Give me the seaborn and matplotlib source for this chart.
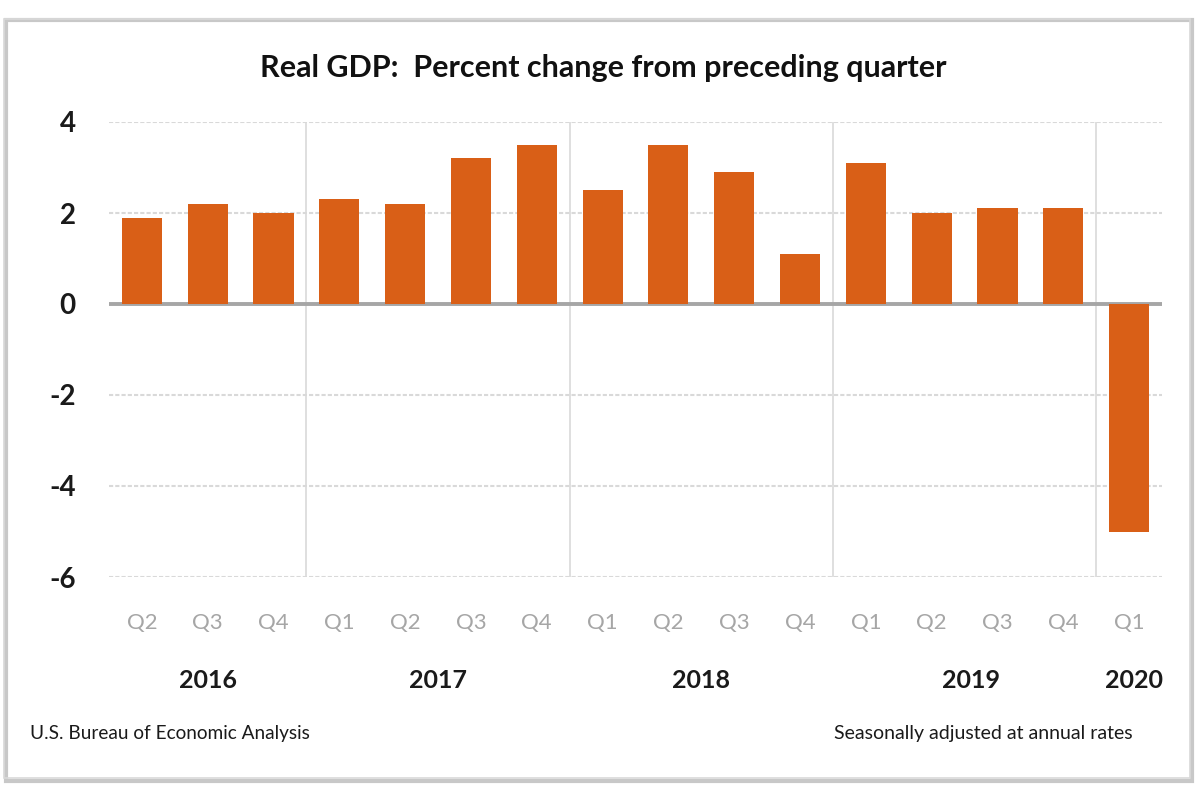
import matplotlib
matplotlib.use("Agg")
import matplotlib.pyplot as plt
import seaborn as sns
import pandas as pd
from matplotlib.patches import Rectangle

quarters = ["Q2", "Q3", "Q4", "Q1", "Q2", "Q3", "Q4", "Q1", "Q2", "Q3", "Q4",
            "Q1", "Q2", "Q3", "Q4", "Q1"]
years = ["2016", "2016", "2016", "2017", "2017", "2017", "2017", "2018", "2018",
         "2018", "2018", "2019", "2019", "2019", "2019", "2020"]
values = [1.9, 2.2, 2.0, 2.3, 2.2, 3.2, 3.5, 2.5, 3.5, 2.9, 1.1, 3.1, 2.0, 2.1, 2.1, -5.0]
year_labels = ["2016", "2017", "2018", "2019", "2020"]
year_label_pos = [1.0, 4.5, 8.5, 12.6, 15.08]
y_ticks = [4, 2, 0, -2, -4, -6]

sns.set_theme(style="white")
FONT = ["Lato", "DejaVu Sans"]
plt.rcParams["font.family"] = FONT

df = pd.DataFrame({"idx": [f"{y} {q}" for y, q in zip(years, quarters)],
                   "value": values})

fig = plt.figure(figsize=(12, 8), dpi=100)
ax = fig.add_axes([109 / 1200, 1 - 577 / 800, (1162 - 109) / 1200, (577 - 122) / 800])

# outer frame with slight shadow
fig.patches.append(Rectangle((6 / 1200, 1 - 781 / 800), 1186 / 1200, 761 / 800,
                             transform=fig.transFigure, fill=False,
                             edgecolor="#C8C8C8", linewidth=3, zorder=0))
fig.patches.append(Rectangle((4 / 1200, 1 - 778 / 800), 1186 / 1200, 759 / 800,
                             transform=fig.transFigure, fill=False,
                             edgecolor="#D9D9D9", linewidth=1.2, zorder=0))

sns.barplot(data=df, x="idx", y="value", color="#D95F17", saturation=1,
            width=0.61, linewidth=0, ax=ax, zorder=3)

ax.set_xlim(-0.5, len(values) - 0.5)
ax.set_ylim(-6, 4)
ax.set_yticks(y_ticks)
ax.set_yticklabels([str(t) for t in y_ticks], fontsize=20, fontweight="bold",
                   color="#1A1A1A")
ax.set_xticks(range(len(quarters)))
ax.set_xticklabels(quarters, fontsize=16, color="#A6A6A6")
ax.tick_params(axis="y", length=0, pad=24)
ax.tick_params(axis="x", length=0, pad=26)
ax.set_xlabel("")
ax.set_ylabel("")
for s in ax.spines.values():
    s.set_visible(False)

for t in y_ticks:
    if t == 0:
        ax.axhline(0, color="#A6A6A6", linewidth=2.8, zorder=2)
    else:
        ax.axhline(t, color="#D9D9D9", linewidth=1.5, linestyle=(0, (2, 1)), zorder=1)
for i in range(1, len(years)):
    if years[i] != years[i - 1]:
        ax.axvline(i - 0.5, color="#D9D9D9", linewidth=1.2, zorder=1)

for lab, pos in zip(year_labels, year_label_pos):
    ax.text(pos, -0.227, lab, transform=ax.get_xaxis_transform(), ha="center",
            va="center", fontsize=18, fontweight="bold", color="#1A1A1A")

fig.text(603 / 1200, 1 - 68 / 800, "Real GDP:  Percent change from preceding quarter",
         ha="center", va="center", fontsize=22, fontweight="bold", color="#111111")
fig.text(30 / 1200, 1 - 733 / 800, "U.S. Bureau of Economic Analysis",
         ha="left", va="center", fontsize=13.7, color="#1A1A1A")
fig.text(1133 / 1200, 1 - 733 / 800, "Seasonally adjusted at annual rates",
         ha="right", va="center", fontsize=14, color="#1A1A1A")

fig.savefig("out.png", dpi=100, facecolor="white")
